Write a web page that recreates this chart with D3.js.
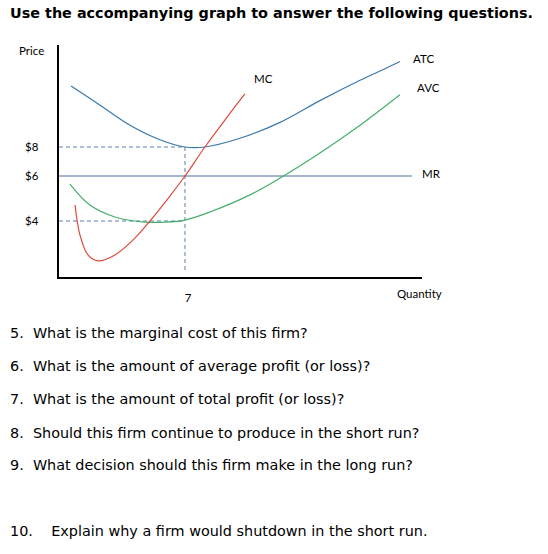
<!DOCTYPE html>
<html><head><meta charset="utf-8">
<script src="https://cdn.jsdelivr.net/npm/d3@7"></script>
<style>body{margin:0;background:#fff}</style>
</head><body>
<svg id="chart" width="548" height="554"></svg>
<script>
// Curve data: quantity, price
const atcQ = [0.72, 2.3, 3.97, 5.62, 7, 8.1, 10.03, 12.24, 14.44, 16.65, 18.03, 18.85];
const atcP = [12.2, 10.9, 9.5, 8.5, 8, 8, 8.6, 9.7, 11.2, 12.6, 13.4, 13.9];
const avcQ = [0.66, 1.76, 3.14, 4.8, 5.9, 7, 8.38, 10.58, 12.24, 14.44, 16.65, 18.85];
const avcP = [5.64, 4.71, 4.18, 3.96, 3.96, 4.04, 4.4, 5.16, 5.91, 7.59, 9.5, 11.6];
const mcQ = [0.94, 1.21, 1.65, 2.2, 3.14, 4.24, 5.07, 6.17, 7, 8.1, 9.2, 10.3];
const mcP = [4.71, 3.51, 2.81, 2.6, 2.81, 3.4, 4, 5.11, 6, 8, 9.86, 11.66];
const mrPrice = 6, mrQEnd = 19.5;
const priceTicks = [8, 6, 4];
const qTick = 7;
const questions = [
  "5.  What is the marginal cost of this firm?",
  "6.  What is the amount of average profit (or loss)?",
  "7.  What is the amount of total profit (or loss)?",
  "8.  Should this firm continue to produce in the short run?",
  "9.  What decision should this firm make in the long run?"
];

const svg = d3.select('#chart');
const x = d3.scaleLinear().domain([0, 20]).range([58, 420.8]);
// the drawing's price axis is not evenly spaced
const y = d3.scaleLinear().domain([2, 4, 6, 8, 14]).range([278, 221, 176, 147, 60]);

svg.append('text').attr('x', 10).attr('y', 18)
  .attr('font-family', 'DejaVu Sans').attr('font-weight', 'bold').attr('font-size', 14)
  .attr('textLength', 523).attr('lengthAdjust', 'spacingAndGlyphs')
  .text('Use the accompanying graph to answer the following questions.');

const g = svg.append('g').attr('font-family', 'Lato, Liberation Sans, sans-serif').attr('font-size', 11.5);

// axes
g.append('line').attr('x1', 58).attr('x2', 58).attr('y1', 45).attr('y2', 278).attr('stroke', '#000').attr('stroke-width', 2);
g.append('line').attr('x1', 57).attr('x2', 422).attr('y1', 278).attr('y2', 278).attr('stroke', '#000').attr('stroke-width', 2);

// dashed guides
const dash = '4,3', dashCol = '#5b7fae';
[8, 4].forEach(p => g.append('line').attr('x1', 59).attr('x2', x(qTick)).attr('y1', y(p)).attr('y2', y(p))
  .attr('stroke', dashCol).attr('stroke-dasharray', dash));
g.append('line').attr('x1', x(qTick)).attr('x2', x(qTick)).attr('y1', y(8)).attr('y2', 270)
  .attr('stroke', dashCol).attr('stroke-dasharray', dash);

// MR
g.append('line').attr('x1', 59).attr('x2', x(mrQEnd)).attr('y1', y(mrPrice)).attr('y2', y(mrPrice))
  .attr('stroke', '#4a6a95').attr('stroke-width', 1.2);

const line = d3.line().x(d => x(d[0])).y(d => y(d[1])).curve(d3.curveCatmullRom);
const curve = (qs, ps, col) => g.append('path').attr('d', line(d3.zip(qs, ps)))
  .attr('fill', 'none').attr('stroke', col).attr('stroke-width', 1.2);
curve(atcQ, atcP, '#3b78ad');
curve(avcQ, avcP, '#45ad6b');
curve(mcQ, mcP, '#df4a3b');

// labels
g.append('text').attr('x', 19).attr('y', 55).text('Price');
priceTicks.forEach(p => g.append('text').attr('x', 25).attr('y', y(p) + 4).text('$' + p));
g.append('text').attr('x', x(qTick) + 3).attr('y', 302).attr('text-anchor', 'middle').text(qTick);
g.append('text').attr('x', 397).attr('y', 298).text('Quantity');
g.append('text').attr('x', 413).attr('y', 63).text('ATC');
g.append('text').attr('x', 417).attr('y', 92).text('AVC');
g.append('text').attr('x', 254).attr('y', 83).text('MC');
g.append('text').attr('x', 422).attr('y', 178).text('MR');

const qy = [338, 371, 404, 438, 470];
questions.forEach((q, i) => svg.append('text').attr('x', 10).attr('y', qy[i])
  .attr('font-family', 'DejaVu Sans').attr('font-size', 14.4).attr('xml:space', 'preserve').text(q));
svg.append('text').attr('x', 10).attr('y', 536).attr('font-family', 'DejaVu Sans').attr('font-size', 14.4)
  .attr('xml:space', 'preserve').text('10.    Explain why a firm would shutdown in the short run.');
</script>
</body></html>
